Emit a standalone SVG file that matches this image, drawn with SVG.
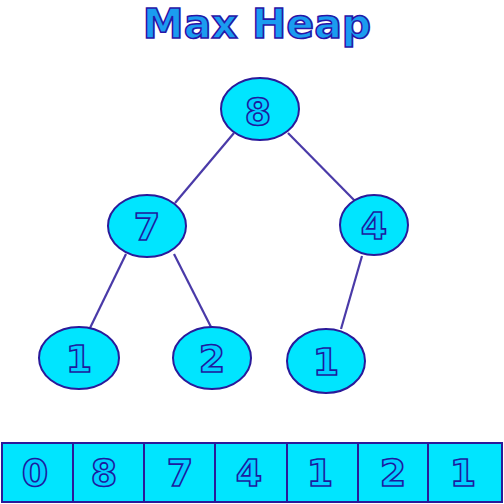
<svg xmlns="http://www.w3.org/2000/svg" width="504" height="504" viewBox="0 0 504 504">
<style>
.node{fill:#00e5ff;stroke:#2a1a9a;stroke-width:2}
.cell{fill:#00e5ff;stroke:#2a1a9a;stroke-width:2}
.lbl{font-family:"DejaVu Sans",sans-serif;font-weight:bold;font-size:38px;fill:#00d0ff;stroke:#1d1aa0;stroke-width:1.6;text-anchor:middle}
.title{font-family:"DejaVu Sans",sans-serif;font-weight:bold;font-size:41px;fill:#1a9cf0;stroke:#2815a8;stroke-width:1.6;text-anchor:middle}
.edge{stroke:#4a3aa8;stroke-width:2.2;fill:none}
</style>
<rect width="504" height="504" fill="#ffffff"/>
<text class="title" x="257" y="38">Max Heap</text>
<g id="connectors">
<line class="edge" x1="234" y1="133" x2="175" y2="203"/>
<line class="edge" x1="288" y1="133" x2="355" y2="201"/>
<line class="edge" x1="126" y1="254" x2="90" y2="328"/>
<line class="edge" x1="174" y1="254" x2="211" y2="327"/>
<line class="edge" x1="362" y1="256" x2="341" y2="329"/>
</g>
<g id="n8"><ellipse class="node" cx="260" cy="109" rx="39" ry="31"/><text class="lbl" x="258" y="125">8</text></g>
<g id="n7"><ellipse class="node" cx="147" cy="226" rx="39" ry="31"/><text class="lbl" x="147" y="240">7</text></g>
<g id="n4"><ellipse class="node" cx="374" cy="225" rx="34" ry="30"/><text class="lbl" x="374" y="239">4</text></g>
<g id="n1a"><ellipse class="node" cx="79" cy="358" rx="40" ry="31"/><text class="lbl" x="79" y="372">1</text></g>
<g id="n2"><ellipse class="node" cx="212" cy="358" rx="39" ry="31"/><text class="lbl" x="212" y="372">2</text></g>
<g id="n1b"><ellipse class="node" cx="326" cy="361" rx="39" ry="32"/><text class="lbl" x="326" y="375">1</text></g>
<g id="array">
<rect class="cell" x="2" y="443" width="71" height="59"/>
<rect class="cell" x="73" y="443" width="71" height="59"/>
<rect class="cell" x="144" y="443" width="71" height="59"/>
<rect class="cell" x="215" y="443" width="72" height="59"/>
<rect class="cell" x="287" y="443" width="71" height="59"/>
<rect class="cell" x="358" y="443" width="70" height="59"/>
<rect class="cell" x="428" y="443" width="74" height="59"/>
<text class="lbl" x="35" y="486">0</text>
<text class="lbl" x="104" y="486">8</text>
<text class="lbl" x="180" y="486">7</text>
<text class="lbl" x="249" y="486">4</text>
<text class="lbl" x="320" y="486">1</text>
<text class="lbl" x="393" y="486">2</text>
<text class="lbl" x="463" y="486">1</text>
</g>
</svg>
